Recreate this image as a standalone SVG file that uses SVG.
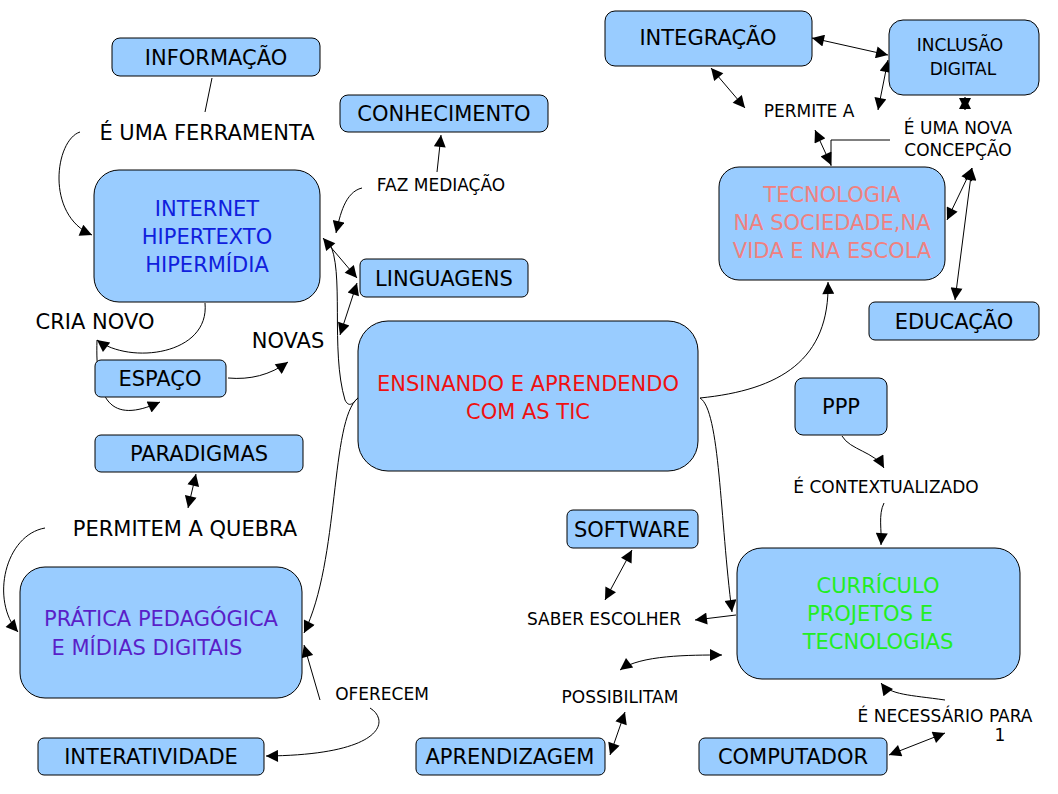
<svg xmlns="http://www.w3.org/2000/svg" width="1058" height="794" viewBox="0 0 1058 794">
<style>
.n{fill:#99ccff;stroke:#000;stroke-width:1}
text{font-family:"DejaVu Sans",sans-serif;text-anchor:middle;fill:#000}
.b{font-size:21px}.s{font-size:17px}
.c path{fill:none;stroke:#000;stroke-width:1}
</style>
<defs>
<marker id="a" viewBox="0 0 10 10" refX="10" refY="5" markerWidth="14" markerHeight="12" markerUnits="userSpaceOnUse" orient="auto-start-reverse"><path d="M0,0L10,5L0,10z" fill="#000"/></marker>
</defs>
<rect width="1058" height="794" fill="#fff"/>
<g class="c">
<path d="M212,78L205,112"/>
<path d="M80,132C55,140 45,215 92,235" marker-end="url(#a)"/>
<path d="M437,172L441,135" marker-end="url(#a)"/>
<path d="M362,188C345,192 340,215 336,233" marker-end="url(#a)"/>
<path d="M323,238L357,278" marker-start="url(#a)" marker-end="url(#a)"/>
<path d="M357,283L340,335" marker-start="url(#a)" marker-end="url(#a)"/>
<path d="M329,242C345,270 330,350 345,400 C350,410 355,400 358,398"/>
<path d="M205,303C210,355 130,365 97,340" marker-end="url(#a)"/>
<path d="M97,340C95,400 110,425 160,402" marker-end="url(#a)"/>
<path d="M228,378C250,380 270,375 288,362" marker-end="url(#a)"/>
<path d="M196,474L188,508" marker-start="url(#a)" marker-end="url(#a)"/>
<path d="M45,528C5,535 -10,600 18,632" marker-end="url(#a)"/>
<path d="M358,398C330,420 340,560 304,633" marker-end="url(#a)"/>
<path d="M304,645L320,700" marker-start="url(#a)"/>
<path d="M370,708C390,720 385,755 266,756" marker-end="url(#a)"/>
<path d="M700,398C780,390 830,360 828,282" marker-end="url(#a)"/>
<path d="M700,398C720,410 720,520 732,612" marker-end="url(#a)"/>
<path d="M632,550L605,600" marker-start="url(#a)" marker-end="url(#a)"/>
<path d="M695,620L736,615" marker-start="url(#a)"/>
<path d="M620,670C640,655 690,655 722,655" marker-start="url(#a)" marker-end="url(#a)"/>
<path d="M625,712L610,755" marker-start="url(#a)" marker-end="url(#a)"/>
<path d="M842,436C850,450 875,452 884,468" marker-end="url(#a)"/>
<path d="M884,503C878,515 882,530 881,545" marker-end="url(#a)"/>
<path d="M881,683C890,695 910,695 945,700" marker-start="url(#a)"/>
<path d="M945,733L889,755" marker-start="url(#a)" marker-end="url(#a)"/>
<path d="M812,38L888,55" marker-start="url(#a)" marker-end="url(#a)"/>
<path d="M711,68L745,108" marker-start="url(#a)" marker-end="url(#a)"/>
<path d="M888,60L878,110" marker-start="url(#a)" marker-end="url(#a)"/>
<path d="M815,130L831,165" marker-start="url(#a)" marker-end="url(#a)"/>
<path d="M890,140L831,140L831,166"/>
<path d="M965,97L965,110" marker-start="url(#a)" marker-end="url(#a)"/>
<path d="M972,168L947,220" marker-start="url(#a)" marker-end="url(#a)"/>
<path d="M972,168L955,300" marker-start="url(#a)" marker-end="url(#a)"/>
</g>
<g id="informacao"><rect class="n" x="112" y="38" width="208" height="38" rx="8"/><text class="b" x="216" y="65">INFORMAÇÃO</text></g>
<g id="conhecimento"><rect class="n" x="340" y="95" width="208" height="37" rx="8"/><text class="b" x="444" y="121">CONHECIMENTO</text></g>
<g id="internet"><rect class="n" x="94" y="170" width="226" height="132" rx="25"/><text class="b" fill="#1020dd" style="fill:#1020dd"><tspan x="207" y="216">INTERNET</tspan><tspan x="207" y="244">HIPERTEXTO</tspan><tspan x="207" y="272">HIPERMÍDIA</tspan></text></g>
<g id="linguagens"><rect class="n" x="360" y="259" width="168" height="38" rx="6"/><text class="b" x="444" y="286">LINGUAGENS</text></g>
<g id="espaco"><rect class="n" x="95" y="360" width="131" height="37" rx="6"/><text class="b" x="160" y="386">ESPAÇO</text></g>
<g id="paradigmas"><rect class="n" x="95" y="435" width="208" height="37" rx="6"/><text class="b" x="199" y="461">PARADIGMAS</text></g>
<g id="ensinando"><rect class="n" x="358" y="321" width="340" height="150" rx="30"/><text class="b" style="fill:#ee1111"><tspan x="528" y="391">ENSINANDO E APRENDENDO</tspan><tspan x="528" y="419">COM AS TIC</tspan></text></g>
<g id="pratica"><rect class="n" x="20" y="567" width="282" height="131" rx="25"/><text class="b" style="fill:#5a1fc8"><tspan x="161" y="626">PRÁTICA PEDAGÓGICA</tspan><tspan x="147" y="655">E MÍDIAS DIGITAIS</tspan></text></g>
<g id="interatividade"><rect class="n" x="38" y="738" width="226" height="37" rx="6"/><text class="b" x="151" y="764">INTERATIVIDADE</text></g>
<g id="aprendizagem"><rect class="n" x="416" y="738" width="189" height="37" rx="6"/><text class="b" x="510" y="764">APRENDIZAGEM</text></g>
<g id="computador"><rect class="n" x="699" y="738" width="188" height="37" rx="6"/><text class="b" x="793" y="764">COMPUTADOR</text></g>
<g id="software"><rect class="n" x="567" y="510" width="131" height="38" rx="6"/><text class="b" x="632" y="537">SOFTWARE</text></g>
<g id="curriculo"><rect class="n" x="737" y="548" width="283" height="131" rx="25"/><text class="b" style="fill:#22ee22"><tspan x="878" y="593">CURRÍCULO</tspan><tspan x="870" y="621">PROJETOS E</tspan><tspan x="878" y="649">TECNOLOGIAS</tspan></text></g>
<g id="ppp"><rect class="n" x="795" y="378" width="92" height="57" rx="8"/><text class="b" x="841" y="414">PPP</text></g>
<g id="tecnologia"><rect class="n" x="719" y="167" width="226" height="113" rx="20"/><text class="b" style="fill:#f08080"><tspan x="832" y="202">TECNOLOGIA</tspan><tspan x="832" y="230">NA SOCIEDADE,NA</tspan><tspan x="832" y="258">VIDA E NA ESCOLA</tspan></text></g>
<g id="educacao"><rect class="n" x="869" y="302" width="170" height="38" rx="6"/><text class="b" x="954" y="329">EDUCAÇÃO</text></g>
<g id="integracao"><rect class="n" x="605" y="11" width="207" height="55" rx="10"/><text class="b" x="708" y="45">INTEGRAÇÃO</text></g>
<g id="inclusao"><rect class="n" x="889" y="20" width="150" height="75" rx="14"/><text class="s"><tspan x="960" y="51">INCLUSÃO</tspan><tspan x="963" y="75">DIGITAL</tspan></text></g>
<g id="labels">
<text class="b" x="207" y="140">É UMA FERRAMENTA</text>
<text class="s" x="441" y="191">FAZ MEDIAÇÃO</text>
<text class="b" x="95" y="329">CRIA NOVO</text>
<text class="b" x="288" y="348">NOVAS</text>
<text class="b" x="185" y="536">PERMITEM A QUEBRA</text>
<text class="s" x="382" y="700">OFERECEM</text>
<text class="s" x="604" y="625">SABER ESCOLHER</text>
<text class="s" x="620" y="703">POSSIBILITAM</text>
<text class="s" x="886" y="493">É CONTEXTUALIZADO</text>
<text class="s" x="945" y="722">É NECESSÁRIO PARA</text>
<text class="s" x="1000" y="741">1</text>
<text class="s" x="809" y="117">PERMITE A</text>
<text class="s"><tspan x="958" y="134">É UMA NOVA</tspan><tspan x="958" y="156">CONCEPÇÃO</tspan></text>
</g>
</svg>
